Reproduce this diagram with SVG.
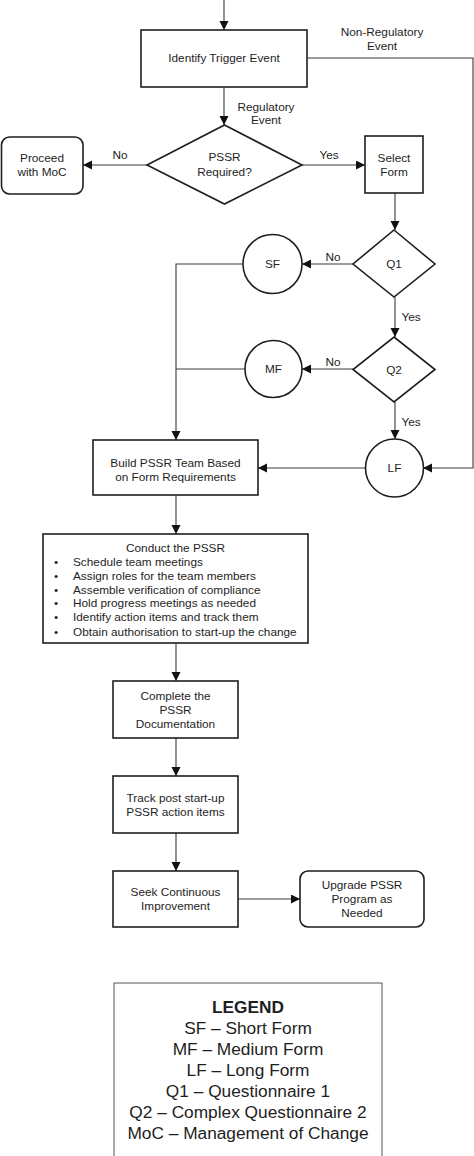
<svg xmlns="http://www.w3.org/2000/svg" width="474" height="1156" viewBox="0 0 474 1156">
<style>
.n{fill:#fff;stroke:#1e1e1e;stroke-width:1.6}
.c{fill:none;stroke:#3a3a3a;stroke-width:1.1}
text{font-family:"Liberation Sans",Arial,sans-serif;font-size:11.8px;fill:#1e1e1e}
.m{text-anchor:middle}
.lg{font-size:17.3px;text-anchor:middle}
</style>
<defs>
<marker id="a" markerUnits="userSpaceOnUse" markerWidth="10" markerHeight="10" refX="9" refY="4.5" orient="auto">
<path d="M0,0 L9,4.5 L0,9 Z" fill="#111"/>
</marker>
</defs>
<rect width="474" height="1156" fill="#fff"/>
<g id="connectors">
<path class="c" d="M224,0 V30" marker-end="url(#a)"/>
<path class="c" d="M224,87 V125" marker-end="url(#a)"/>
<path class="c" d="M307,58 H473 V468 H423" marker-end="url(#a)"/>
<path class="c" d="M147,165 H83" marker-end="url(#a)"/>
<path class="c" d="M302,165 H365" marker-end="url(#a)"/>
<path class="c" d="M395,193 V230" marker-end="url(#a)"/>
<path class="c" d="M353,264 H302" marker-end="url(#a)"/>
<path class="c" d="M243,264 H176 V440" marker-end="url(#a)"/>
<path class="c" d="M395,297 V337" marker-end="url(#a)"/>
<path class="c" d="M353,369 H302" marker-end="url(#a)"/>
<path class="c" d="M245,369 H176"/>
<path class="c" d="M395,402 V439" marker-end="url(#a)"/>
<path class="c" d="M366,468 H258" marker-end="url(#a)"/>
<path class="c" d="M176,495 V534" marker-end="url(#a)"/>
<path class="c" d="M176,643 V681" marker-end="url(#a)"/>
<path class="c" d="M176,738 V776" marker-end="url(#a)"/>
<path class="c" d="M176,833 V871" marker-end="url(#a)"/>
<path class="c" d="M238,899 H300" marker-end="url(#a)"/>
<text class="m" x="382" y="36">Non-Regulatory</text>
<text class="m" x="382" y="50">Event</text>
<text class="m" x="266" y="111">Regulatory</text>
<text class="m" x="266" y="124">Event</text>
<text class="m" x="120" y="159">No</text>
<text class="m" x="329" y="159">Yes</text>
<text class="m" x="333" y="261">No</text>
<text class="m" x="411" y="321">Yes</text>
<text class="m" x="333" y="366">No</text>
<text class="m" x="411" y="426">Yes</text>
</g>
<g id="identify">
<rect class="n" x="141" y="30" width="166" height="57"/>
<text class="m" x="224" y="62">Identify Trigger Event</text>
</g>
<g id="pssr-required">
<path class="n" d="M224.5,125 L302,165 L224.5,204 L147,165 Z"/>
<text class="m" x="224.5" y="161">PSSR</text>
<text class="m" x="224.5" y="176">Required?</text>
</g>
<g id="proceed">
<rect class="n" x="1.5" y="137" width="81.5" height="57" rx="8"/>
<text class="m" x="42" y="162">Proceed</text>
<text class="m" x="42" y="176">with MoC</text>
</g>
<g id="select-form">
<rect class="n" x="365" y="136" width="58" height="57"/>
<text class="m" x="394" y="162">Select</text>
<text class="m" x="394" y="176">Form</text>
</g>
<g id="q1">
<path class="n" d="M394,230 L435,264 L394,297 L353,264 Z"/>
<text class="m" x="394" y="268">Q1</text>
</g>
<g id="sf">
<circle class="n" cx="272.5" cy="264" r="29.5"/>
<text class="m" x="272.5" y="268">SF</text>
</g>
<g id="q2">
<path class="n" d="M394,337 L435,369.5 L394,402 L353,369.5 Z"/>
<text class="m" x="394" y="373.5">Q2</text>
</g>
<g id="mf">
<circle class="n" cx="273.5" cy="369" r="28.5"/>
<text class="m" x="273.5" y="373">MF</text>
</g>
<g id="lf">
<circle class="n" cx="394.5" cy="468" r="29"/>
<text class="m" x="394.5" y="472">LF</text>
</g>
<g id="build">
<rect class="n" x="93" y="440" width="165" height="55"/>
<text class="m" x="175.5" y="467">Build PSSR Team Based</text>
<text class="m" x="175.5" y="481">on Form Requirements</text>
</g>
<g id="conduct">
<rect class="n" x="43" y="534" width="265" height="109"/>
<text class="m" x="175.5" y="552">Conduct the PSSR</text>
<text x="54" y="566">•</text><text x="73" y="566">Schedule team meetings</text>
<text x="54" y="580">•</text><text x="73" y="580">Assign roles for the team members</text>
<text x="54" y="594">•</text><text x="73" y="594">Assemble verification of compliance</text>
<text x="54" y="607">•</text><text x="73" y="607">Hold progress meetings as needed</text>
<text x="54" y="621">•</text><text x="73" y="621">Identify action items and track them</text>
<text x="54" y="636">•</text><text x="73" y="636">Obtain authorisation to start-up the change</text>
</g>
<g id="complete">
<rect class="n" x="113" y="681" width="125" height="57"/>
<text class="m" x="175.5" y="700">Complete the</text>
<text class="m" x="175.5" y="714">PSSR</text>
<text class="m" x="175.5" y="728">Documentation</text>
</g>
<g id="track">
<rect class="n" x="113" y="776" width="125" height="57"/>
<text class="m" x="175.5" y="802">Track post start-up</text>
<text class="m" x="175.5" y="816">PSSR action items</text>
</g>
<g id="seek">
<rect class="n" x="113" y="871" width="125" height="56"/>
<text class="m" x="175.5" y="896">Seek Continuous</text>
<text class="m" x="175.5" y="910">Improvement</text>
</g>
<g id="upgrade">
<rect class="n" x="300" y="871" width="124" height="56" rx="8"/>
<text class="m" x="362" y="889">Upgrade PSSR</text>
<text class="m" x="362" y="903">Program as</text>
<text class="m" x="362" y="917">Needed</text>
</g>
<g id="legend">
<rect x="114" y="983" width="268" height="190" fill="#fff" stroke="#555" stroke-width="1"/>
<text class="lg" x="248" y="1013" font-weight="bold">LEGEND</text>
<text class="lg" x="248" y="1034">SF – Short Form</text>
<text class="lg" x="248" y="1055">MF – Medium Form</text>
<text class="lg" x="248" y="1076">LF – Long Form</text>
<text class="lg" x="248" y="1097">Q1 – Questionnaire 1</text>
<text class="lg" x="248" y="1118">Q2 – Complex Questionnaire 2</text>
<text class="lg" x="248" y="1139">MoC – Management of Change</text>
</g>
</svg>
